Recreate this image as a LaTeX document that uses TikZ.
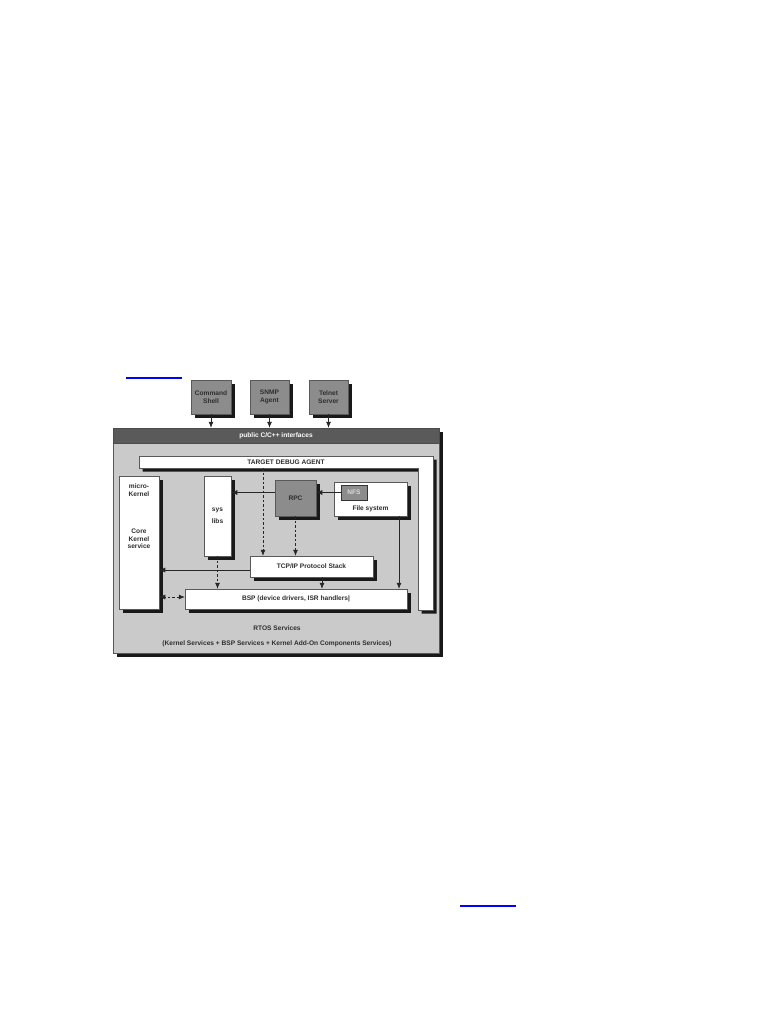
\documentclass[tikz,border=0pt]{standalone}
\usepackage{fontspec}
\setmainfont{Liberation Sans}
\usepackage{xcolor}
\usepackage{tikz}
\usetikzlibrary{arrows.meta,positioning,shadows}

\definecolor{bodygray}{HTML}{CACACA}
\definecolor{bargray}{HTML}{5A5A5A}
\definecolor{appgray}{HTML}{8C8C8C}
\definecolor{txtgray}{HTML}{2E2E2E}

\begin{document}
\begin{tikzpicture}[x=1pt,y=-1pt,>={Latex[length=6pt,width=5pt]},thin,
	every node/.style={font=\fontsize{6.6}{7.4}\selectfont\bfseries,text=txtgray,align=center},
	box/.style={rectangle,draw=black!65,line width=0.5pt,fill=white,inner sep=0pt,
		general shadow={fill=black!90,shadow xshift=3.5pt,shadow yshift=-3.5pt}},
	appbox/.style={box,fill=appgray},
	link/.style={draw=black!85,line width=0.6pt},
	dlink/.style={link,dashed,dash pattern=on 2.5pt off 2pt}]

	\useasboundingbox (0,0) rectangle (768,1024);
	\draw[blue,line width=1.2pt] (126,378) -- (182,378);
	\draw[blue,line width=1.2pt] (460,906) -- (516,906);

	% The applications
	\node [appbox,minimum width=40,minimum height=34] at (211,397) (cmd) {Command\\Shell};
	\node [appbox,minimum width=39,minimum height=34] at (269.5,397) (snmp) {SNMP\\Agent};
	\node [appbox,minimum width=39,minimum height=34] at (328.5,397) (telnet) {Telnet\\Server};

	% The RTOS
	\node [box,fill=bodygray,minimum width=326,minimum height=225] at (276,540.5) (rtos) {};
	\node [rectangle,fill=bargray,draw=black!70,line width=0.5pt,minimum width=326,minimum height=15,
		text=white] at (276,435.5) (api) {public C/C++ interfaces};
	\draw [box] (139,456) -- (433,456) -- (433,610) -- (418,610) -- (418,468) -- (139,468) -- cycle;
	\node [minimum width=294,minimum height=12] at (286,462) (tda) {TARGET DEBUG AGENT};
	\coordinate (dbg) at (263,468);

	\node [box,minimum width=40,minimum height=133] at (139,542.5) (kernel) {};
	\node at (139,490) (kname) {micro-\\Kernel};
	\node at (139,539) (kcore) {Core\\Kernel\\service};
	\node [box,minimum width=27,minimum height=80] at (217.5,516) (syslibs) {sys\\[5pt]libs};
	\node [appbox,minimum width=41,minimum height=36] at (295.5,498) (rpc) {RPC};
	\node [box,minimum width=73,minimum height=34] at (370.5,499) (fs) {};
	\node at (370.5,508.5) (fsname) {File system};
	\node [rectangle,draw=black!80,line width=0.6pt,fill=appgray,minimum width=26,minimum height=15,
		text=black!15] at (354,492.5) (nfs) {NFS};
	\node [box,minimum width=123,minimum height=21] at (311.5,566.5) (tcp) {TCP/IP Protocol Stack};
	\node [box,minimum width=222,minimum height=20] at (296,599) (bsp) {BSP (device drivers, ISR handlers|};

	\node at (277,628) (svc) {RTOS Services};
	\node at (277,644) (svclist) {(Kernel Services + BSP Services + Kernel Add-On Components Services)};

	% Edges
	\draw [link,->] (cmd) -- (cmd |- api.north);
	\draw [link,->] (snmp) -- (snmp |- api.north);
	\draw [link,->] (telnet) -- (telnet |- api.north);
	\draw [link,->] (nfs) -- (rpc.east |- nfs);
	\draw [link,->] (rpc.west |- nfs) -- (syslibs.east |- nfs);
	\draw [dlink,->] (dbg) -- (dbg |- tcp.north);
	\draw [dlink,->] (rpc.south) -- (rpc.south |- tcp.north);
	\draw [link,->] ([yshift=-3.5pt]tcp.west) -- ([yshift=-3.5pt]tcp.west -| kernel.east);
	\draw [link,->] ([xshift=10.5pt]tcp.south) -- ([xshift=10.5pt]tcp.south |- bsp.north);
	\draw [dlink,->] (syslibs.south) -- (syslibs.south |- bsp.north);
	\draw [link,->] ([xshift=28.5pt]fs.south) -- ([xshift=28.5pt]fs.south |- bsp.north);
	\draw [dlink,<->] ([yshift=2pt]bsp.west) -- ([yshift=2pt]bsp.west -| kernel.east);

\end{tikzpicture}
\end{document}
